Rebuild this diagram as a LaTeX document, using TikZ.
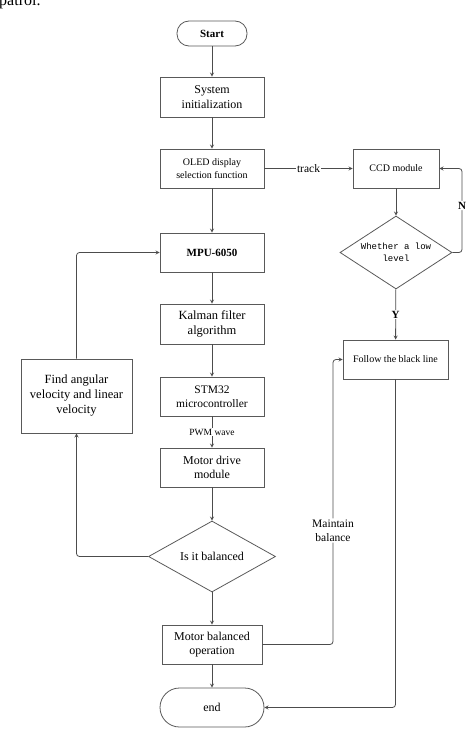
\documentclass[tikz,border=0pt]{standalone}
\usepackage{fontspec}
\setmainfont{Liberation Serif}
\setmonofont{Liberation Mono}
\usetikzlibrary{shapes.geometric, arrows}
\tikzstyle{box} = [rectangle, minimum width=104, minimum height=39, inner sep=1, text centered, align=center, draw=black!65, line width=0.8pt, font=\fontsize{12}{14.5}\selectfont]
\tikzstyle{term} = [box, rounded corners=12]
\tikzstyle{decision} = [diamond, inner sep=0, text centered, align=center, draw=black!65, line width=0.8pt, font=\fontsize{12}{14.5}\selectfont]
\tikzstyle{arrow} = [line width=0.8pt, draw=black!70, ->, >=stealth]
\tikzstyle{lbl} = [fill=white, inner sep=1, align=center]

\begin{document}
\begin{tikzpicture}[x=1pt,y=-1pt]
\useasboundingbox (0,0) rectangle (474,752);
\node[anchor=base west,inner sep=0,font=\fontsize{16}{16}\selectfont] (page) at (-1,6) {patrol.};
% main column
\node[term,minimum width=70,minimum height=25,font=\fontsize{11}{12}\selectfont\bfseries] (start) at (212,33.5) {Start};
\node[box,minimum height=40] (init) at (212,97) {System\\initialization};
\node[box,font=\fontsize{10}{12.3}\selectfont] (oled) at (212,168.5) {OLED display\\selection function};
\node[box,font=\fontsize{11}{13}\selectfont\bfseries] (mpu) at (212,252.5) {MPU-6050};
\node[box,minimum height=40,font=\fontsize{12.5}{14.5}\selectfont] (kalman) at (212,324) {Kalman filter\\algorithm};
\node[box,font=\fontsize{11.5}{14}\selectfont] (stm) at (212,396.5) {STM32\\microcontroller};
\node[box] (motor) at (212,467.5) {Motor drive\\module};
\node[decision,minimum width=127,minimum height=71,shape aspect=1.79] (bal) at (212,556.5) {Is it balanced};
\node[box,minimum width=100] (oper) at (212,644.5) {Motor balanced\\operation};
\node[box,rounded corners=19.5] (end) at (212,707.5) {end};
% side boxes
\node[box,minimum width=111,minimum height=74,font=\fontsize{12.5}{15}\selectfont] (find) at (76.5,396) {Find angular\\velocity and linear\\velocity};
\node[box,minimum width=86,font=\fontsize{10}{12}\selectfont] (ccd) at (396,168.5) {CCD module};
\node[decision,minimum width=112,minimum height=73,shape aspect=1.53,font=\fontsize{9}{12}\selectfont\ttfamily] (low) at (396,252.5) {Whether a low\\level};
\node[box,minimum width=105,font=\fontsize{10}{12}\selectfont] (follow) at (395.5,359.5) {Follow the black line};
\coordinate (nc) at (462,252.5);
\coordinate (mb) at (333,644.5);
% connectors
\draw[arrow] (start) -- (init);
\draw[arrow] (init) -- (oled);
\draw[arrow] (oled) -- (mpu);
\draw[arrow] (mpu) -- (kalman);
\draw[arrow] (kalman) -- (stm);
\draw[arrow] (stm) -- node[lbl,font=\fontsize{9.5}{11}\selectfont]{PWM wave} (motor);
\draw[arrow] (motor) -- (bal);
\draw[arrow] (bal) -- (oper);
\draw[arrow] (oper) -- (end);
\draw[arrow] (oled) -- node[lbl,font=\fontsize{11.5}{13}\selectfont]{track} (ccd);
\draw[arrow] (ccd) -- (low);
\draw[arrow] (low) -- node[lbl,font=\fontsize{11}{13}\selectfont\bfseries]{Y} (follow);
\draw[arrow,rounded corners=3] (low.east) -- (nc) |- node[lbl,pos=0.28,font=\fontsize{11}{13}\selectfont\bfseries]{N} (ccd.east);
\draw[arrow,rounded corners=3] (bal.west) -| (find.south);
\draw[arrow,rounded corners=3] (find.north) |- (mpu.west);
\draw[arrow,rounded corners=3] (oper.east) -- (mb) |- node[lbl,pos=0.2,font=\fontsize{11.5}{14.5}\selectfont]{Maintain\\balance} (follow.west);
\draw[arrow,rounded corners=3] (follow.south) |- (end.east);
\end{tikzpicture}
\end{document}
